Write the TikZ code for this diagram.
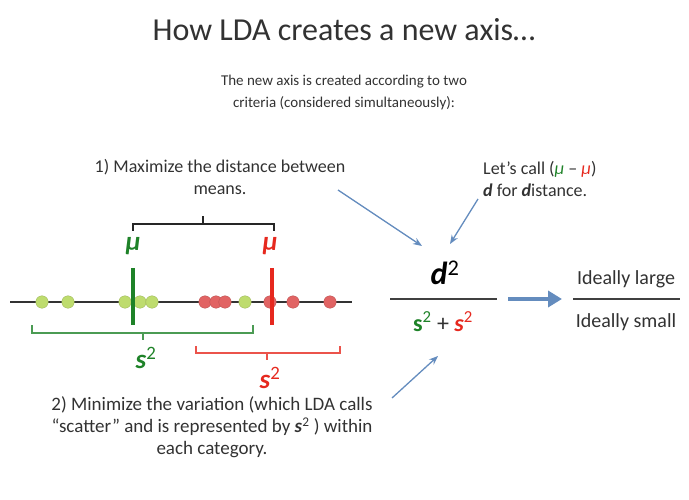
\documentclass[tikz,border=0pt]{standalone}
\usepackage{fontspec}
\setmainfont{Carlito}
\usetikzlibrary{arrows.meta}
\definecolor{gdot}{RGB}{190,220,110}
\definecolor{rdot}{RGB}{225,100,100}
\definecolor{gmu}{RGB}{30,130,40}
\definecolor{rmu}{RGB}{230,40,30}
\definecolor{txt}{RGB}{50,50,50}
\definecolor{arr}{RGB}{100,140,190}
\tikzset{
 lbl/.style={text=txt,font=\fontsize{20}{22}\selectfont,align=center,inner sep=0},
 gd/.style={circle,fill=gdot,draw=gdot!80!black,line width=0.3pt,minimum size=12.5pt,inner sep=0},
 rd/.style={circle,fill=rdot,draw=rdot!80!black,line width=0.3pt,minimum size=12.5pt,inner sep=0},
 pointer/.style={draw=arr,line width=1.3pt,-{Stealth[length=9pt,width=7pt]}},
 brk/.style={line width=1.2pt},
}
\begin{document}
\begin{tikzpicture}[x=1pt,y=-1pt]
\useasboundingbox (0,0) rectangle (689,500);
\node[text=txt,font=\fontsize{32}{36}\selectfont,inner sep=0] (title) at (344,30) {How LDA creates a new axis…};
\node[lbl,font=\fontsize{15}{22}\selectfont] (sub) at (344,93) {The new axis is created according to two\\criteria (considered simultaneously):};
\node[lbl,font=\fontsize{18}{22}\selectfont] (t1) at (220,177) {1) Maximize the distance between\\means.};
\node[lbl,font=\fontsize{18}{22}\selectfont,align=left,anchor=west] (t2) at (483,179) {Let’s call (\textcolor{gmu}{\textit{μ}} – \textcolor{rmu}{\textit{μ}})\\\textbf{\textit{d}} for \textbf{\textit{d}}istance.};
\node[lbl,font=\fontsize{19}{22}\selectfont] (t3) at (212,427) {2) Minimize the variation (which LDA calls\\“scatter” and is represented by \textbf{\textit{s}}\textsuperscript{2} ) within\\each category.};
% axis
\coordinate (a0) at (10,302); \coordinate (a1) at (352,302);
\draw[line width=1.3pt,black!80] (a0) -- (a1);
\foreach \x [count=\i] in {42,68,125,140,152,245} \node[gd] (g\i) at (\x,302) {};
\foreach \x [count=\i] in {205,216,225,270,293,330} \node[rd] (r\i) at (\x,302) {};
\coordinate (gb0) at (133,268); \coordinate (gb1) at (133,325);
\coordinate (rb0) at (272,268); \coordinate (rb1) at (272,325);
\draw[gmu,line width=3.5pt] (gb0) -- (gb1);
\draw[rmu,line width=3.5pt] (rb0) -- (rb1);
\node[text=gmu,font=\fontsize{27}{28}\selectfont\bfseries\itshape] (mug) at (133,246) {μ};
\node[text=rmu,font=\fontsize{27}{28}\selectfont\bfseries\itshape] (mur) at (270,246) {μ};
% brackets
\draw[brk,black!85] (133,231) -- (133,224) -- (274,224) -- (274,231) (203,224) -- (203,216);
\draw[brk,gmu!80] (32,325) -- (32,333) -- (253,333) -- (253,325) (143,333) -- (143,340);
\draw[brk,rmu!80] (196,346) -- (196,353) -- (340,353) -- (340,346) (267,353) -- (267,360);
\node[text=gmu,font=\fontsize{27}{28}\selectfont\bfseries] (sg) at (146,358) {\textit{s}\textsuperscript{\normalfont 2}};
\node[text=rmu,font=\fontsize{27}{28}\selectfont\bfseries] (sr) at (270,378) {\textit{s}\textsuperscript{\normalfont 2}};
% fraction
\node[font=\fontsize{32}{34}\selectfont\bfseries\itshape] (d2) at (445,273) {d\textsuperscript{\normalfont\upshape 2}};
\coordinate (f0) at (390,299); \coordinate (f1) at (497,299);
\draw[line width=1.5pt,black!75] (f0) -- (f1);
\node[font=\fontsize{24}{26}\selectfont,text=txt] (den) at (443,322) {\textcolor{gmu}{\textbf{s}\textsuperscript{2}} + \textcolor{rmu}{\textbf{\textit{s}}\textsuperscript{2}}};
\coordinate (ba0) at (508,299); \coordinate (ba1) at (562,299);
\draw[draw=arr,line width=4pt,-{Triangle[length=14pt,width=16pt]}] (ba0) -- (ba1);
\coordinate (h0) at (573,299); \coordinate (h1) at (680,299);
\draw[line width=1.5pt,black!75] (h0) -- (h1);
\node[lbl] (large) at (626,279) {Ideally large};
\node[lbl] (small) at (626,322) {Ideally small};
% pointers
\coordinate (p1s) at (338,190); \coordinate (p1e) at (422,246);
\coordinate (p2s) at (478,199); \coordinate (p2e) at (450,244);
\coordinate (p3s) at (392,398); \coordinate (p3e) at (438,356);
\draw[pointer] (p1s) -- (p1e);
\draw[pointer] (p2s) -- (p2e);
\draw[pointer] (p3s) -- (p3e);
\end{tikzpicture}
\end{document}
